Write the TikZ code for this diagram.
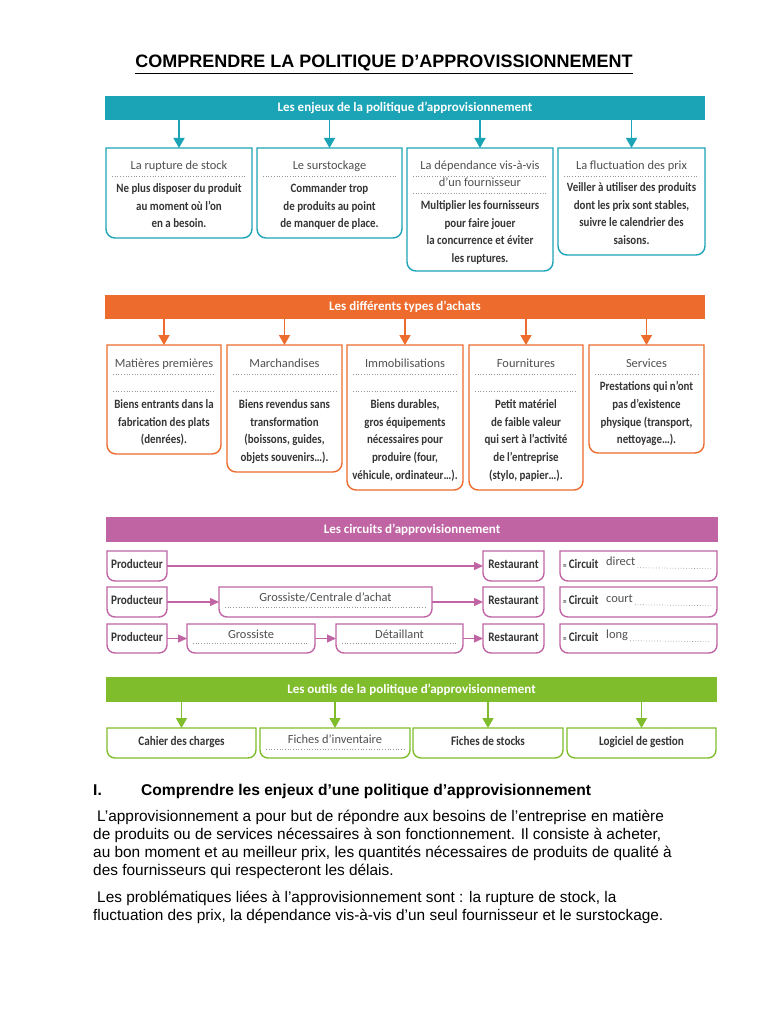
\documentclass[tikz,border=0pt]{standalone}
\usepackage{fontspec}
\setmainfont{Liberation Sans}
\newfontfamily\dg{Carlito}
\newfontfamily\dgc[FakeStretch=0.86]{Carlito}
\usetikzlibrary{arrows.meta,calc}
\definecolor{cteal}{HTML}{1BA3B6}
\definecolor{corange}{HTML}{EC6B2D}
\definecolor{cmag}{HTML}{C064A4}
\definecolor{cgreen}{HTML}{80BD2C}
\definecolor{ctext}{HTML}{353535}
\definecolor{ctitle}{HTML}{505050}
\newcommand\mkbox[7][9pt]{%
 \node[box, minimum width={(#5-#3)*1pt}, minimum height={(#6-#4)*1pt}] (#2) at (#3,#4) {};
 \draw[bline, #7] (#2.north west) -- ([yshift=#1]#2.south west) arc[start angle=180,end angle=270,radius=#1] -- ([xshift=-#1]#2.south east) arc[start angle=270,end angle=360,radius=#1] -- (#2.north east) -- cycle;}
\newcommand\sepl[3]{\draw[sepline] (#1+6,#3) -- (#2-6,#3);}
\begin{document}
\begin{tikzpicture}[x=1pt,y=-1pt,
 box/.style={inner sep=0pt, outer sep=0pt, anchor=north west},
 bline/.style={line width=1.4pt},
 banner/.style={inner sep=0pt, outer sep=0pt, anchor=north west, text=white, font=\dg\bfseries\fontsize{13}{14}\selectfont},
 btitle/.style={font=\dg\fontsize{12.4}{14}\selectfont, text=ctitle, inner sep=0pt, text height=8.3pt, text depth=2.7pt},
 bbody/.style={font=\dgc\bfseries\fontsize{12.7}{17.6}\selectfont, text=ctext, align=center, inner sep=0pt, anchor=north},
 blabel/.style={font=\dgc\bfseries\fontsize{13}{14}\selectfont, text=ctext, inner sep=0pt, text height=8.5pt, text depth=2.8pt},
 sepline/.style={draw=ctitle!60, dotted, line width=0.7pt},
 arr/.style={line width=1.4pt, -{Triangle[length=10pt,width=11pt]}},
 sarr/.style={line width=1.2pt, -{Triangle[length=9pt,width=8pt]}},
 ptext/.style={font=\fontsize{15.4}{17}\selectfont, anchor=base west, inner sep=0pt},
 phead/.style={font=\bfseries\fontsize{15.6}{17}\selectfont, anchor=base west, inner sep=0pt},
]
\useasboundingbox[fill=white] (0,0) rectangle (768,1024);

% title
\node[font=\bfseries\fontsize{18}{20}\selectfont, anchor=base, inner sep=0pt] (title) at (384,68) {\underline{COMPRENDRE LA POLITIQUE D’APPROVISSIONNEMENT}};

% ===== Section 1 =====
\node[banner, fill=cteal, minimum width=600pt, minimum height=24pt] (ban1) at (105,96) {Les enjeux de la politique d’approvisionnement};
\mkbox{b1}{106}{148}{252}{238}{cteal}
\mkbox{b2}{257}{148}{402}{238}{cteal}
\mkbox{b3}{407}{148}{553}{271}{cteal}
\mkbox{b4}{558}{148}{705}{255}{cteal}
\foreach \b in {b1,b2,b3,b4}{\draw[arr, cteal] (ban1.south -| \b.north) -- (\b.north);}
\node[btitle] (b1t) at (179,167) {La rupture de stock};
\node[btitle] (b2t) at (329.5,167) {Le surstockage};
\node[btitle] (b3t) at (480,167) {La dépendance vis-à-vis};
\node[btitle] (b3u) at (480,184) {d’un fournisseur};
\node[btitle] (b4t) at (631.5,167) {La fluctuation des prix};
\sepl{106}{252}{176}\sepl{257}{402}{176}\sepl{407}{553}{176}\sepl{407}{553}{193}\sepl{558}{705}{176}
\node[bbody] (b1b) at (179,183.5) {Ne plus disposer du produit\\au moment où l’on\\en a besoin.};
\node[bbody] (b2b) at (329.5,183.5) {Commander trop\\de produits au point\\de manquer de place.};
\node[bbody] (b3b) at (480,200.5) {Multiplier les fournisseurs\\pour faire jouer\\la concurrence et éviter\\les ruptures.};
\node[bbody] (b4b) at (631.5,182.5) {Veiller à utiliser des produits\\dont les prix sont stables,\\suivre le calendrier des\\saisons.};

% ===== Section 2 =====
\node[banner, fill=corange, minimum width=600pt, minimum height=24pt] (ban2) at (105,295) {Les différents types d’achats};
\mkbox{c1}{107}{345}{221}{454}{corange}
\mkbox{c2}{227}{345}{342}{472}{corange}
\mkbox{c3}{347}{345}{463}{490}{corange}
\mkbox{c4}{469}{345}{583}{490}{corange}
\mkbox{c5}{589}{345}{704}{453}{corange}
\foreach \b in {c1,c2,c3,c4,c5}{\draw[arr, corange] (ban2.south -| \b.north) -- (\b.north);}
\node[btitle] (c1t) at (164,365) {Matières premières};
\node[btitle] (c2t) at (284.5,365) {Marchandises};
\node[btitle] (c3t) at (405,365) {Immobilisations};
\node[btitle] (c4t) at (526,365) {Fournitures};
\node[btitle] (c5t) at (646.5,365) {Services};
\sepl{107}{221}{374}\sepl{107}{221}{391}
\sepl{227}{342}{374}\sepl{227}{342}{391}
\sepl{347}{463}{374}\sepl{347}{463}{391}
\sepl{469}{583}{374}\sepl{469}{583}{391}
\sepl{589}{704}{374}
\node[bbody] (c1b) at (164,399.5) {Biens entrants dans la\\fabrication des plats\\(denrées).};
\node[bbody] (c2b) at (284.5,399.5) {Biens revendus sans\\transformation\\(boissons, guides,\\objets souvenirs…).};
\node[bbody] (c3b) at (405,399.5) {Biens durables,\\gros équipements\\nécessaires pour\\produire (four,\\véhicule, ordinateur…).};
\node[bbody] (c4b) at (526,399.5) {Petit matériel\\de faible valeur\\qui sert à l’activité\\de l’entreprise\\(stylo, papier…).};
\node[bbody] (c5b) at (646.5,381.5) {Prestations qui n’ont\\pas d’existence\\physique (transport,\\nettoyage…).};

% ===== Section 3 =====
\node[banner, fill=cmag, minimum width=612pt, minimum height=25pt] (ban3) at (106,517) {Les circuits d’approvisionnement};
\mkbox[8pt]{p1}{107}{551}{167}{581}{cmag}
\mkbox[8pt]{p2}{107}{587}{167}{617}{cmag}
\mkbox[8pt]{p3}{107}{624}{167}{653}{cmag}
\mkbox[8pt]{r1}{483}{551}{544}{581}{cmag}
\mkbox[8pt]{r2}{483}{587}{544}{617}{cmag}
\mkbox[8pt]{r3}{483}{624}{544}{653}{cmag}
\mkbox[8pt]{k1}{560}{551}{717}{581}{cmag}
\mkbox[8pt]{k2}{560}{587}{717}{617}{cmag}
\mkbox[8pt]{k3}{560}{624}{717}{653}{cmag}
\mkbox[8pt]{g2}{219}{587}{432}{617}{cmag}
\mkbox[8pt]{g3}{187}{624}{315}{653}{cmag}
\mkbox[8pt]{d3}{336}{624}{463}{653}{cmag}
\foreach \n in {p1,p2,p3}{\node[blabel] (\n l) at (\n) {Producteur};}
\foreach \n in {r1,r2,r3}{\node[blabel] (\n l) at (\n) {Restaurant};}
\node[btitle] (g2l) at (325.5,599) {Grossiste/Centrale d’achat};
\node[btitle] (g3l) at (251,636) {Grossiste};
\node[btitle] (d3l) at (399.5,636) {Détaillant};
\sepl{219}{432}{607}\sepl{187}{315}{643}\sepl{336}{463}{643}
\draw[sarr, cmag] (p1.east) -- (r1.west);
\draw[sarr, cmag] (p2.east) -- (g2.west);
\draw[sarr, cmag] (g2.east) -- (r2.west);
\draw[sarr, cmag] (p3.east) -- (g3.west);
\draw[sarr, cmag] (g3.east) -- (d3.west);
\draw[sarr, cmag] (d3.east) -- (r3.west);
\foreach \n/\w/\y in {k1/direct/563,k2/court/600,k3/long/636}{
 \node[blabel, anchor=west] (\n c) at ([xshift=3pt]\n.west) {{\fontsize{8}{9}\selectfont=}\,Circuit};
 \node[btitle, anchor=west] (\n w) at (606,\y) {\w};
 \draw[sepline] (\n w.south east) ++(2,-1) -- ([xshift=-6pt]\n w.south east -| \n.east);
}

% ===== Section 4 =====
\node[banner, fill=cgreen, minimum width=611pt, minimum height=25pt] (ban4) at (106,677) {Les outils de la politique d’approvisionnement};
\mkbox[8pt]{o1}{107}{728}{256}{758}{cgreen}
\mkbox[8pt]{o2}{260}{728}{410}{758}{cgreen}
\mkbox[8pt]{o3}{413}{728}{563}{758}{cgreen}
\mkbox[8pt]{o4}{567}{728}{716}{758}{cgreen}
\foreach \b in {o1,o2,o3,o4}{\draw[arr, cgreen] (ban4.south -| \b.north) -- (\b.north);}
\node[blabel] (o1l) at (o1) {Cahier des charges};
\node[btitle] (o2l) at (335,741) {Fiches d’inventaire};
\sepl{260}{410}{749}
\node[blabel] (o3l) at (o3) {Fiches de stocks};
\node[blabel] (o4l) at (o4) {Logiciel de gestion};

% ===== text =====
\node[phead] (h1) at (93,795) {I.};
\node[phead] (h2) at (141,795) {Comprendre les enjeux d’une politique d’approvisionnement};
\node[ptext] (l1) at (97,821) {L’approvisionnement a pour but de répondre aux besoins de l'entreprise en matière};
\node[ptext] (l2) at (93,839) {de produits ou de services nécessaires à son fonctionnement. Il consiste à acheter,};
\node[ptext] (l3) at (93,857) {au bon moment et au meilleur prix, les quantités nécessaires de produits de qualité à};
\node[ptext] (l4) at (93,875) {des fournisseurs qui respecteront les délais.};
\node[ptext] (m1) at (97,902) {Les problématiques liées à l'approvisionnement sont : la rupture de stock, la};
\node[ptext] (m2) at (93,920) {fluctuation des prix, la dépendance vis-à-vis d’un seul fournisseur et le surstockage.};
\end{tikzpicture}
\end{document}
